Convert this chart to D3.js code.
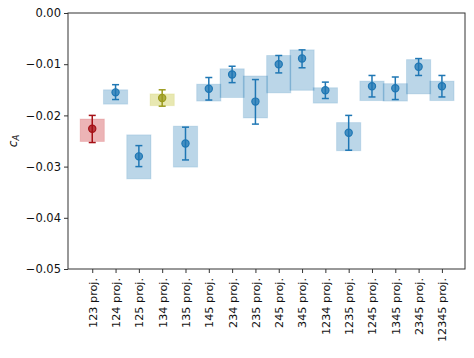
<!DOCTYPE html>
<html><head><meta charset="utf-8">
<script src="https://cdn.jsdelivr.net/npm/d3@7"></script>
<style>body{margin:0;background:#fff}svg{display:block}text{font-family:"DejaVu Sans",sans-serif}</style>
</head><body><svg id="c" width="474" height="358"></svg>
<script>
const categories = ["123 proj.","124 proj.","125 proj.","134 proj.","135 proj.","145 proj.","234 proj.","235 proj.","245 proj.","345 proj.","1234 proj.","1235 proj.","1245 proj.","1345 proj.","2345 proj.","12345 proj."];
const values   = [-0.0226,-0.0155,-0.0280,-0.0166,-0.0255,-0.0148,-0.0120,-0.0173,-0.0100,-0.0089,-0.0151,-0.0234,-0.0143,-0.0147,-0.0105,-0.0143];
const errLow   = [-0.0253,-0.0169,-0.0300,-0.0182,-0.0287,-0.0170,-0.0136,-0.0217,-0.0117,-0.0107,-0.0167,-0.0268,-0.0164,-0.0169,-0.0122,-0.0164];
const errHigh  = [-0.0200,-0.0140,-0.0259,-0.0150,-0.0223,-0.0126,-0.0104,-0.0130,-0.0083,-0.0072,-0.0135,-0.0200,-0.0122,-0.0125,-0.0089,-0.0122];
const boxLow   = [-0.0251,-0.0178,-0.0324,-0.0181,-0.0301,-0.0172,-0.0165,-0.0205,-0.0156,-0.0151,-0.0176,-0.0269,-0.0171,-0.0172,-0.0158,-0.0171];
const boxHigh  = [-0.0207,-0.0150,-0.0238,-0.0158,-0.0221,-0.0139,-0.0109,-0.0123,-0.0083,-0.0072,-0.0146,-0.0214,-0.0133,-0.0138,-0.0091,-0.0133];
const groups   = ["red","blue","blue","olive","blue","blue","blue","blue","blue","blue","blue","blue","blue","blue","blue","blue"];
const yTicks   = [0,-0.01,-0.02,-0.03,-0.04,-0.05];

const palette = {
  blue:  {box:"#1f77b4", mark:"#1f77b4"},
  red:   {box:"#c8282e", mark:"#a50f15"},
  olive: {box:"#bcbd22", mark:"#9a9a1c"}
};

const svg = d3.select("#c");
const L=68,R=465,T=13,B=269;
const x = d3.scaleLinear().domain([-1.04,15.99]).range([L,R]);
const y = d3.scaleLinear().domain([-0.05,0]).range([B,T]);
const bw = x(1.04)-x(0);

const g = svg.append("g");
categories.forEach((c,i)=>{
  const col = palette[groups[i]];
  g.append("rect")
    .attr("x", x(i)-bw/2).attr("width", bw)
    .attr("y", y(boxHigh[i])).attr("height", y(boxLow[i])-y(boxHigh[i]))
    .attr("fill", col.box).attr("fill-opacity", groups[i]==="blue"?0.3:0.35)
    .attr("stroke", col.box).attr("stroke-opacity",0.15).attr("stroke-width",1);
  const xc = x(i);
  g.append("line").attr("x1",xc).attr("x2",xc).attr("y1",y(errLow[i])).attr("y2",y(errHigh[i]))
    .attr("stroke",col.mark).attr("stroke-width",1.5);
  [errLow[i],errHigh[i]].forEach(v=>{
    g.append("line").attr("x1",xc-3.5).attr("x2",xc+3.5).attr("y1",y(v)).attr("y2",y(v))
      .attr("stroke",col.mark).attr("stroke-width",1.5);
  });
  g.append("circle").attr("cx",xc).attr("cy",y(values[i])).attr("r",3.6)
    .attr("fill",col.mark).attr("fill-opacity",0.75).attr("stroke",col.mark).attr("stroke-width",1.2);
});

// frame
svg.append("rect").attr("x",L).attr("y",T).attr("width",R-L).attr("height",B-T)
  .attr("fill","none").attr("stroke","#333").attr("stroke-width",1);

const ya = svg.append("g").attr("transform",`translate(${L},0)`)
  .call(d3.axisLeft(y).tickValues(yTicks).tickSize(4).tickPadding(3)
    .tickFormat(d=>d3.format(".2f")(d).replace("-","\u2212")));
ya.select(".domain").remove();
ya.selectAll("line").attr("stroke","#333");
ya.selectAll("text").attr("font-size",11.5).attr("fill","#111").style("font-family","DejaVu Sans");

const xa = svg.append("g").attr("transform",`translate(0,${B})`)
  .call(d3.axisBottom(x).tickValues(d3.range(categories.length)).tickSize(4).tickFormat(i=>categories[i]));
xa.select(".domain").remove();
xa.selectAll("line").attr("stroke","#333");
xa.selectAll("text").attr("font-size",11.2).attr("fill","#111").style("font-family","DejaVu Sans")
  .attr("transform","rotate(-90)").attr("text-anchor","end").attr("x",-9).attr("y",0).attr("dy","0.35em");

svg.append("text").attr("transform","translate(17,141) rotate(-90)").attr("text-anchor","middle")
  .attr("font-size",12).attr("fill","#111").attr("font-style","italic")
  .html('c<tspan font-size="8.5" dy="2">A</tspan>');
</script></body></html>
